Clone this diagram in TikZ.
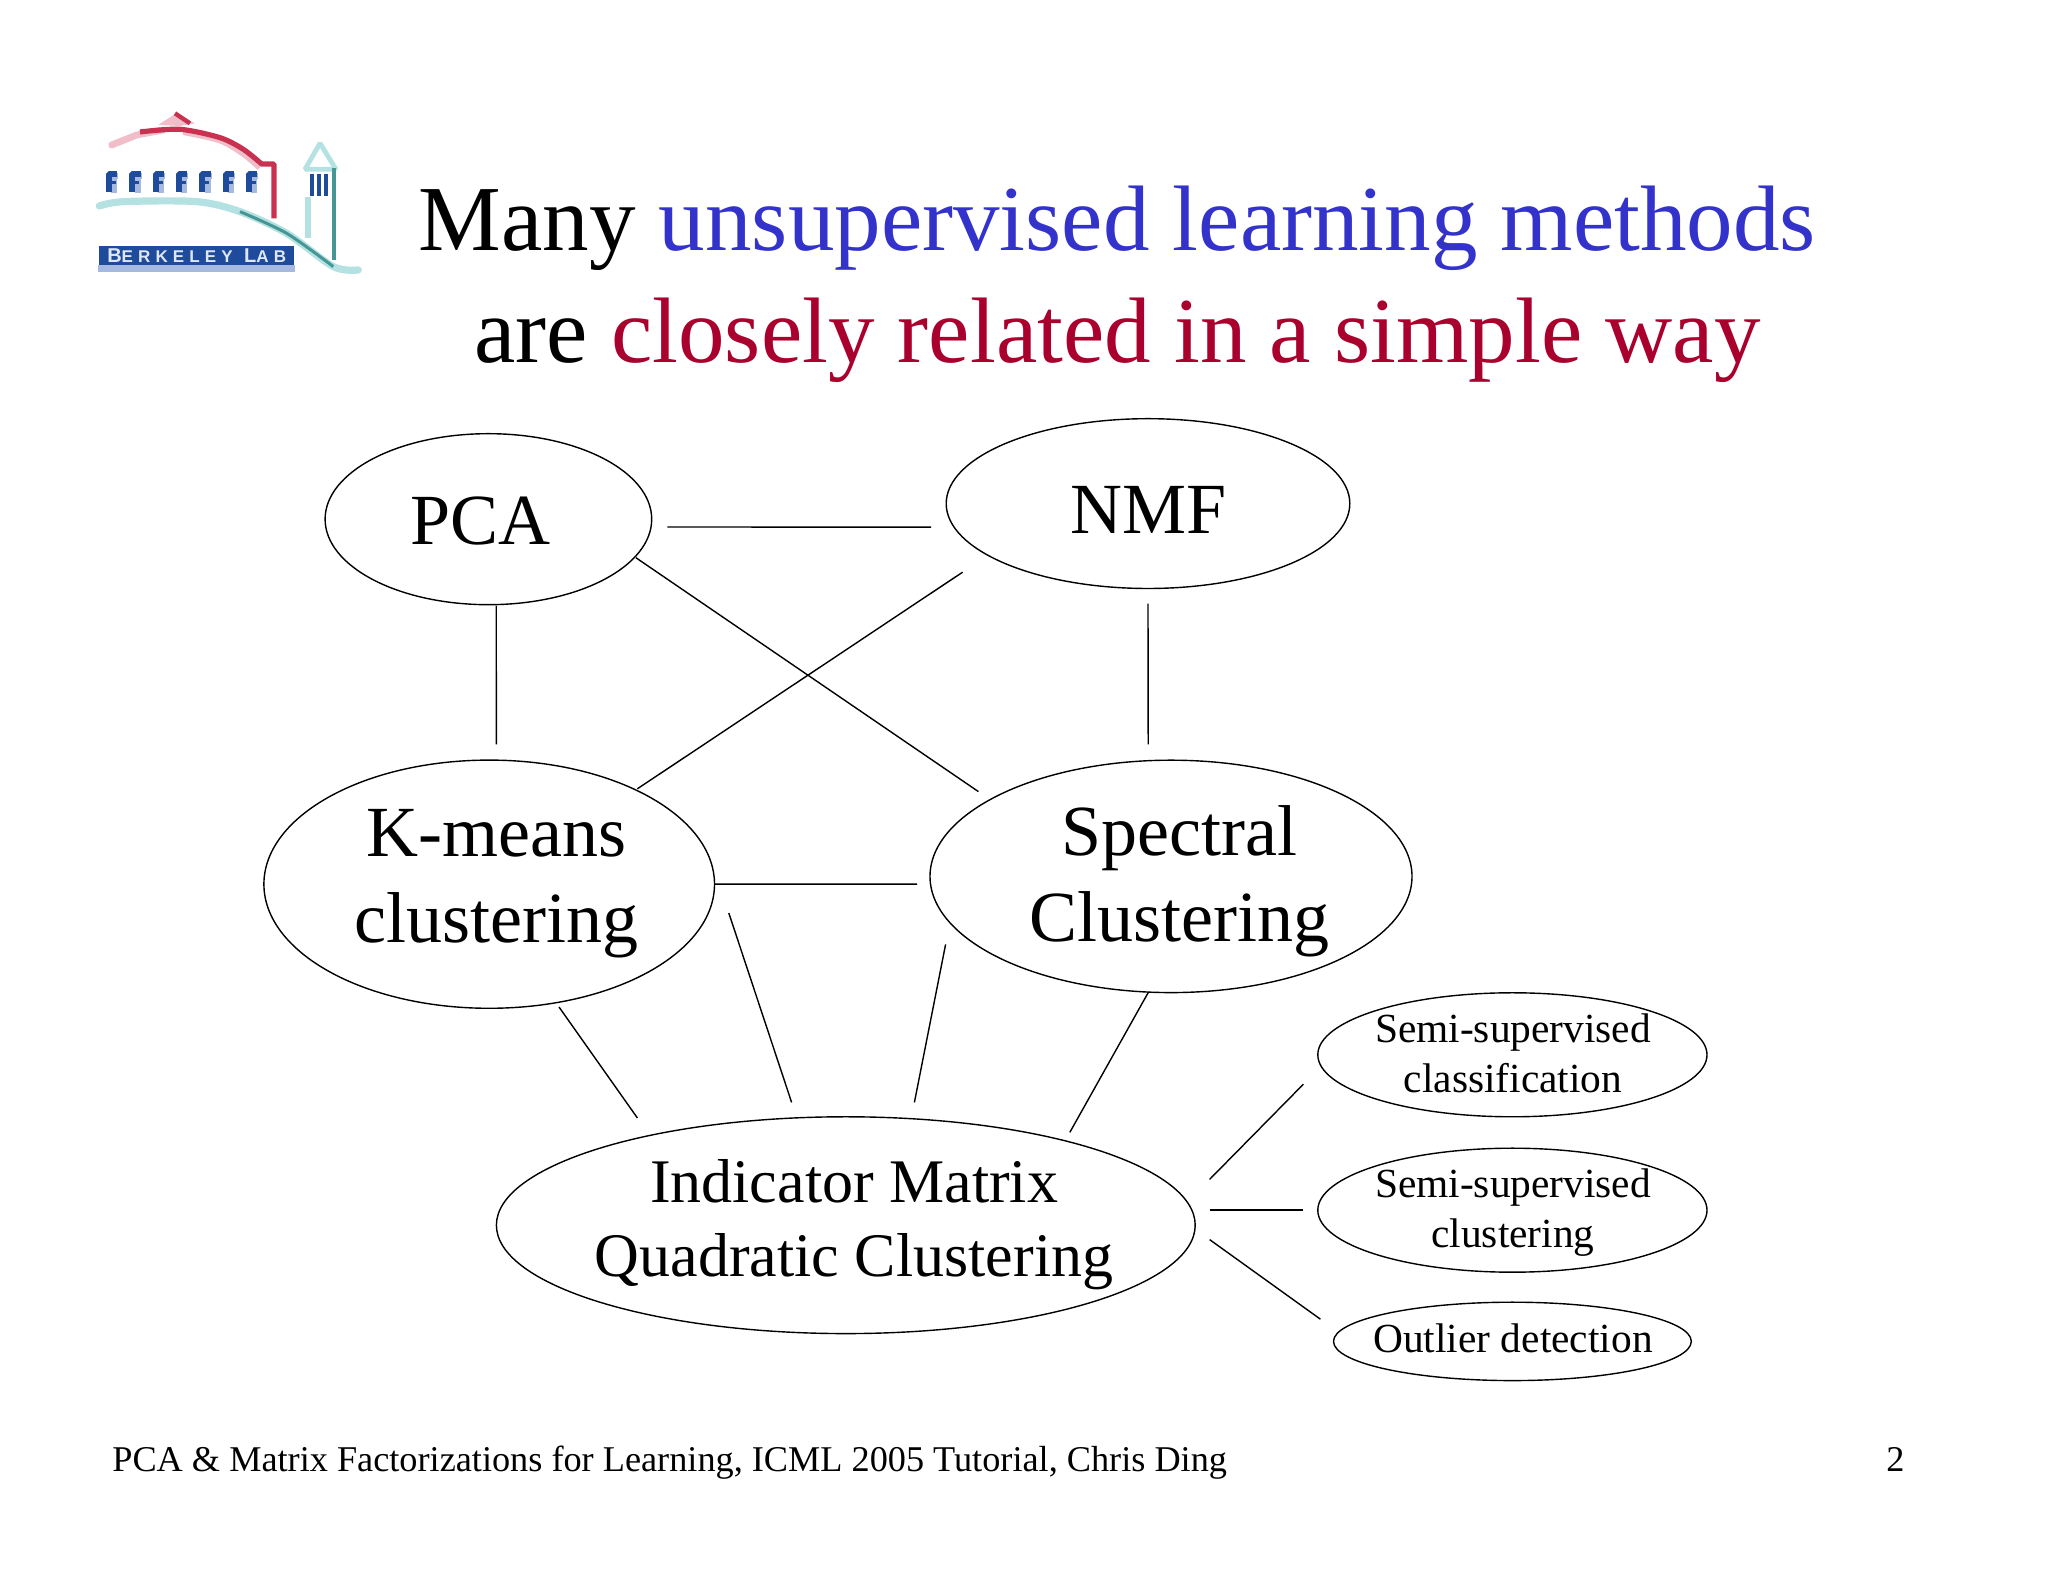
\documentclass[tikz,border=0pt]{standalone}
\usepackage{fontspec}
\setmainfont{Liberation Serif}
\newfontfamily\logofont[LetterSpace=30]{Liberation Sans}
\usetikzlibrary{shapes.geometric}
\definecolor{titleblue}{RGB}{51,51,204}
\definecolor{titlered}{RGB}{170,0,45}
\definecolor{logored}{RGB}{200,50,80}
\definecolor{logopink}{RGB}{240,190,200}
\definecolor{logoblue}{RGB}{30,75,155}
\definecolor{logosky}{RGB}{165,185,225}
\definecolor{logoteal}{RGB}{70,150,150}
\definecolor{logoaqua}{RGB}{180,225,225}
\newcommand{\nudged}[3]{\raisebox{\dimexpr#2-0.25em\relax}[0pt][0pt]{\makebox[0pt]{\hspace*{#1}\begin{tabular}{@{}c@{}}#3\end{tabular}}}}
\tikzset{
  oval/.style={draw,ellipse,inner sep=0pt,line width=0.7bp},
  bigtext/.style={font=\fontsize{36bp}{43bp}\selectfont},
  midtext/.style={font=\fontsize{31bp}{37.2bp}\selectfont},
  smalltext/.style={font=\fontsize{20.7bp}{24.8bp}\selectfont},
  foottext/.style={font=\fontsize{18.13bp}{22bp}\selectfont,inner sep=0pt,anchor=base west},
  link/.style={black,line width=0.7bp},
}
\begin{document}
\begin{tikzpicture}[line join=bevel,]
\useasboundingbox (0bp,0bp) rectangle (1024bp,791bp);
%% logo
\begin{scope}[shift={(40bp,746bp)},x=0.16667bp,y=-0.16667bp]
  \draw [logopink,line width=3.4bp,line cap=round] (95,165) -- (170,135) -- (250,120);
  \draw [logopink,line width=3.4bp] plot [smooth] coordinates {(310,125) (420,150) (490,190) (540,232)};
  \fill [logopink] (235,105) -- (285,72) -- (345,100) -- (300,108) -- cycle;
  \draw [logored,line width=2.2bp] (285,70) -- (330,100);
  \draw [logored,line width=2.6bp] plot [smooth] coordinates {(180,126) (300,118) (420,143) (490,178) (545,222)} -- (582,222) -- (582,385);
  \foreach \i in {0,...,6} {
    \draw [logosky,line width=3bp] (115+70*\i,258) -- (103+70*\i,258) -- (103+70*\i,310);
    \draw [logoblue,line width=3bp] (112+70*\i,252) -- (87+70*\i,252) -- (87+70*\i,305);
    \draw [logoblue,line width=1.6bp] (87+70*\i,277) -- (108+70*\i,277);
  }
  \draw [logoaqua,line width=3.6bp,line cap=round] plot [smooth] coordinates {(58,348) (130,335) (350,335) (480,365) (620,430) (760,530) (835,540)};
  \draw [logoteal,line width=1.5bp] plot [smooth] coordinates {(480,365) (620,430) (760,530)};
  \draw [logoaqua,line width=3bp] (685,320) -- (685,445);
  \draw [logoaqua,line width=2.4bp] (675,238) -- (720,160) -- (768,238) -- cycle;
  \draw [logoteal,line width=2.2bp] (762,235) -- (762,510);
  \foreach \i in {0,1,2} {
    \draw [logoblue,line width=2bp] (697+20*\i,252) -- (697+20*\i,318);
  }
  \fill [logosky] (55,525) rectangle (645,545);
  \fill [logoblue] (58,468) rectangle (642,525);
  \node (node_logotext) at (350,497) [inner sep=0pt,text=logosky!35!white,font=\logofont\bfseries\fontsize{10bp}{10bp}\selectfont] {B{\fontsize{8.5bp}{8bp}\selectfont ERKELEY} L{\fontsize{8.5bp}{8bp}\selectfont AB}};
\end{scope}
%% heading
\node (node_title) at (558.7bp,649bp) [align=center,inner sep=0pt,font=\fontsize{46.5bp}{56.2bp}\selectfont] {Many \textcolor{titleblue}{unsupervised learning methods}\\are \textcolor{titlered}{closely related in a simple way}};
%% methods
\node (node_pca) at (244.2bp,531.4bp) [oval,bigtext,minimum width=163.3bp,minimum height=85.5bp] {\nudged{-7.7bp}{-1.3bp}{PCA}};
\node (node_nmf) at (574.0bp,539.2bp) [oval,bigtext,minimum width=201.8bp,minimum height=84.9bp] {\nudged{0.3bp}{-3.8bp}{NMF}};
\node (node_kmeans) at (244.6bp,348.9bp) [oval,bigtext,minimum width=225.3bp,minimum height=124.1bp] {\nudged{7.5bp}{3.9bp}{K-means\\clustering}};
\node (node_spectral) at (585.5bp,352.8bp) [oval,bigtext,minimum width=241bp,minimum height=116.2bp] {\nudged{8.8bp}{0.1bp}{Spectral\\Clustering}};
\node (node_indicator) at (422.9bp,178.4bp) [oval,midtext,minimum width=349.4bp,minimum height=108.4bp] {\nudged{8.3bp}{1.7bp}{Indicator Matrix\\Quadratic Clustering}};
\node (node_semiclass) at (756.2bp,263.6bp) [oval,smalltext,minimum width=194.6bp,minimum height=62bp] {\nudged{0.6bp}{-1.3bp}{Semi-supervised\\classification}};
\node (node_semiclust) at (756.2bp,185.9bp) [oval,smalltext,minimum width=194.6bp,minimum height=62bp] {\nudged{0.6bp}{-1.3bp}{Semi-supervised\\clustering}};
\node (node_outlier) at (756.2bp,120.3bp) [oval,smalltext,minimum width=178.9bp,minimum height=39.2bp] {\nudged{0.6bp}{-0.7bp}{Outlier detection}};
%% connectors
\draw [link] ([shift={(89.5bp,-3.9bp)}]node_pca.center) -- ([shift={(-108.4bp,-11.8bp)}]node_nmf.center);
\draw [link] ([shift={(3.9bp,-43.4bp)}]node_pca.center) -- ([shift={(3.6bp,69.9bp)}]node_kmeans.center);
\draw [link] ([shift={(73.8bp,-19.3bp)}]node_pca.center) -- ([shift={(-96.3bp,42.4bp)}]node_spectral.center);
\draw [link] ([shift={(-92.7bp,-34.3bp)}]node_nmf.center) -- ([shift={(74.1bp,47.7bp)}]node_kmeans.center);
\draw [link] ([shift={(0bp,-50bp)}]node_nmf.center) -- ([shift={(-11.4bp,66bp)}]node_spectral.center);
\draw [link] ([shift={(112.7bp,0bp)}]node_kmeans.center) -- ([shift={(-127bp,-3.9bp)}]node_spectral.center);
\draw [link] ([shift={(34.9bp,-61.4bp)}]node_kmeans.center) -- ([shift={(-104.2bp,53.6bp)}]node_indicator.center);
\draw [link] ([shift={(119.8bp,-14.4bp)}]node_kmeans.center) -- ([shift={(-27.1bp,61.4bp)}]node_indicator.center);
\draw [link] ([shift={(-112.7bp,-34bp)}]node_spectral.center) -- ([shift={(34.3bp,61.4bp)}]node_indicator.center);
\draw [link] ([shift={(-11.4bp,-58.1bp)}]node_spectral.center) -- ([shift={(112bp,46.4bp)}]node_indicator.center);
\draw [link] ([shift={(181.9bp,22.9bp)}]node_indicator.center) -- ([shift={(-104.5bp,-14.7bp)}]node_semiclass.center);
\draw [link] ([shift={(181.9bp,7.5bp)}]node_indicator.center) -- ([shift={(-104.5bp,0bp)}]node_semiclust.center);
\draw [link] ([shift={(181.9bp,-7.2bp)}]node_indicator.center) -- ([shift={(-96bp,11.1bp)}]node_outlier.center);
%% footer
\node (node_footer) at (56bp,55bp) [foottext] {PCA \& Matrix Factorizations for Learning, ICML 2005 Tutorial, Chris Ding};
\node (node_page) at (943bp,55bp) [foottext] {2};
\end{tikzpicture}
\end{document}
